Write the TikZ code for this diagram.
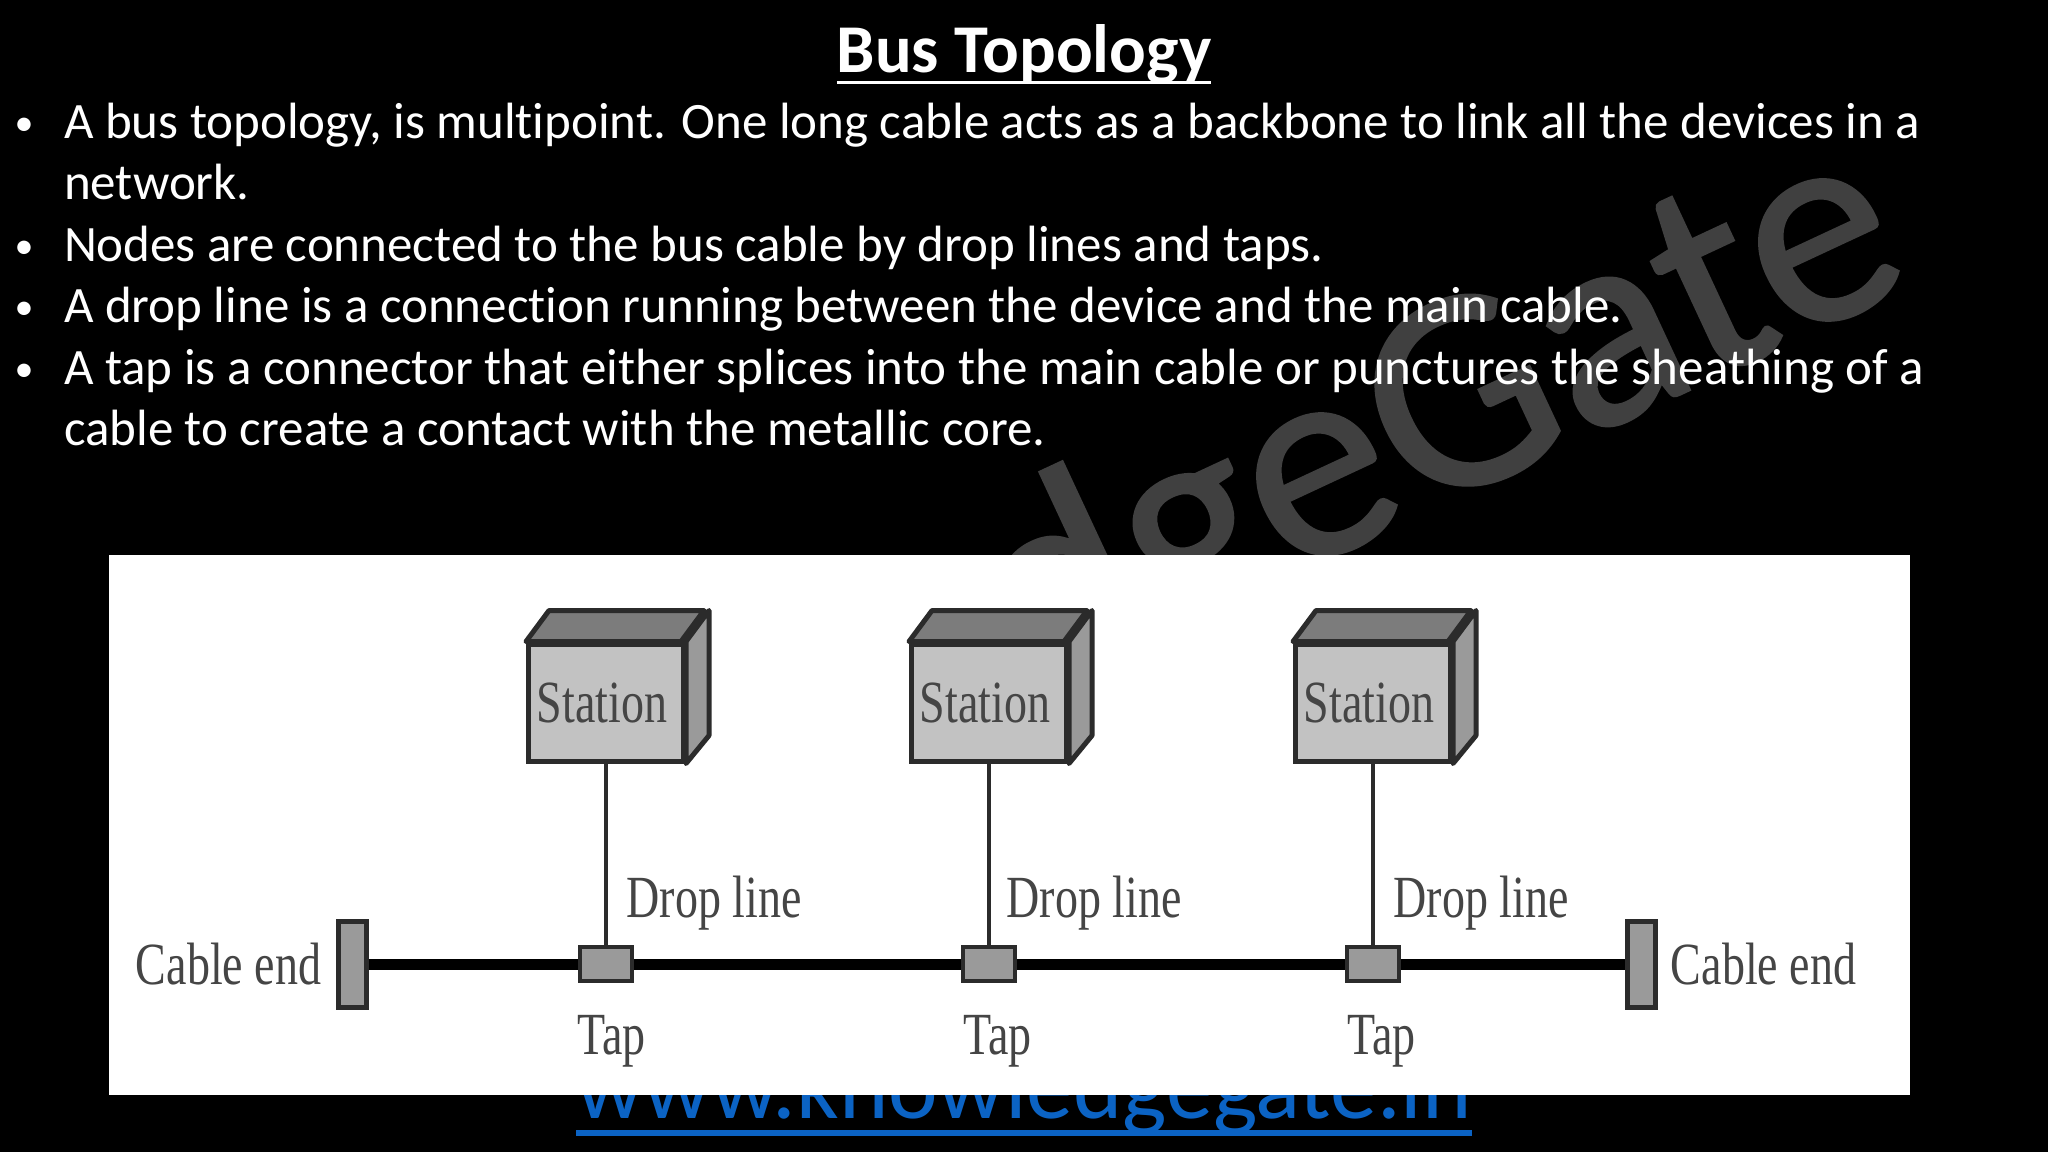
\documentclass[tikz,border=0pt]{standalone}
\usepackage{fontspec}
\setmainfont{Carlito}[Ligatures=NoCommon]
\newfontfamily\timesf{Liberation Serif}
\newfontfamily\wmfont[FakeBold=1]{Carlito}
\definecolor{wmgrey}{HTML}{404040}
\definecolor{urlblue}{HTML}{0B63C4}
\definecolor{frontgrey}{HTML}{C2C2C2}
\definecolor{topgrey}{HTML}{7C7C7C}
\definecolor{sidegrey}{HTML}{9A9A9A}
\definecolor{edgegrey}{HTML}{2B2B2B}
\definecolor{labelgrey}{HTML}{454545}
\newcommand{\figlabel}[1]{\scalebox{1}[1.3]{\timesf\fontsize{23}{23}\selectfont #1}}
\tikzset{
  x=0.5pt,y=-0.5pt,
  bodytext/.style={anchor=base west,inner sep=0pt,outer sep=0pt,text=white,font=\fontsize{25.5}{25.5}\selectfont},
  bulletmark/.style={anchor=base,inner sep=0pt,outer sep=0pt,text=white,font=\fontsize{19}{19}\selectfont},
  stationbox/.style={draw=edgegrey,line width=2.5pt,fill=frontgrey,minimum width=77.5pt,minimum height=58.5pt,inner sep=0pt,text=labelgrey,font=\timesf},
  boxface/.style={draw=edgegrey,line width=2.5pt,line join=round},
  tapbox/.style={draw=edgegrey,line width=2pt,fill=sidegrey,minimum width=26pt,minimum height=17pt,inner sep=0pt},
  endbox/.style={draw=edgegrey,line width=2.5pt,fill=sidegrey,minimum width=14pt,minimum height=43pt,inner sep=0pt},
  figtext/.style={inner sep=0pt,outer sep=0pt,text=labelgrey},
  dropwire/.style={draw=edgegrey,line width=2pt},
  buswire/.style={draw=black,line width=5.5pt},
}
\begin{document}
\begin{tikzpicture}
\useasboundingbox (0,0) rectangle (2048,1152);
\fill[black] (0,0) rectangle (2048,1152);
% watermark
\node[rotate=25,inner sep=0pt,text=wmgrey,font=\fontsize{144}{144}\wmfont] (wm) at (1050,605) {KnowledgeGate};
% url
\node[anchor=base,inner sep=0pt,outer sep=0pt,text=urlblue,font=\fontsize{47}{47}\selectfont] (url) at (1024,1118) {www.knowledgegate.in};
\draw[urlblue,line width=3pt] ([yshift=-7.5pt]url.base west) -- ([yshift=-7.5pt]url.base east);
% title
\node[anchor=base,inner sep=0pt,outer sep=0pt,text=white,font=\fontsize{34.2}{34.2}\selectfont\bfseries] (title) at (1024,72.5) {Bus Topology};
\draw[white,line width=1.6pt] ([yshift=-5pt]title.base west) -- ([yshift=-5pt]title.base east);
% bullets
\node[bulletmark] (b1) at (24,135) {•};
\node[bodytext] (l1) at (64,138) {A bus topology, is multipoint. One long cable acts as a backbone to link all the devices in a};
\node[bodytext] (l2) at (64,199.5) {network.};
\node[bulletmark] (b2) at (24,258) {•};
\node[bodytext] (l3) at (64,261) {Nodes are connected to the bus cable by drop lines and taps.};
\node[bulletmark] (b3) at (24,319) {•};
\node[bodytext] (l4) at (64,322) {A drop line is a connection running between the device and the main cable.};
\node[bulletmark] (b4) at (24,381) {•};
\node[bodytext] (l5) at (64,384) {A tap is a connector that either splices into the main cable or punctures the sheathing of a};
\node[bodytext] (l6) at (64,445) {cable to create a contact with the metallic core.};
% white panel
\fill[white] (109,555) rectangle (1910,1095);
% cable ends
\node[endbox] (endL) at (352,964) {};
\node[endbox] (endR) at (1641,964) {};
\draw[buswire] (endL.east) -- (endR.west);
% stations
\foreach \n/\dx in {1/0,2/383,3/767}{
  \node[stationbox] (s\n) at (606+\dx,702.5) {\hspace*{-4pt}\figlabel{Station}};
  \draw[boxface,fill=topgrey] (s\n.north west) -- ++(23,-31) -- ++(155,0) -- ++(-23,31) -- cycle;
  \draw[boxface,fill=sidegrey] (s\n.north east) -- ++(23,-31) -- ++(0,125) -- (s\n.south east) -- cycle;
  \node[tapbox] (t\n) at (606+\dx,964) {};
  \draw[dropwire] (s\n.south) -- (t\n.north);
}
% labels
\node[figtext] (d1) at (714,903) {\figlabel{Drop line}};
\node[figtext] (d2) at (1094,903) {\figlabel{Drop line}};
\node[figtext] (d3) at (1481,903) {\figlabel{Drop line}};
\node[figtext] (a1) at (611.5,1041) {\figlabel{Tap}};
\node[figtext] (a2) at (997.5,1041) {\figlabel{Tap}};
\node[figtext] (a3) at (1381.5,1041) {\figlabel{Tap}};
\node[figtext] (c1) at (228.5,964) {\figlabel{Cable end}};
\node[figtext] (c2) at (1763.5,964) {\figlabel{Cable end}};
\end{tikzpicture}
\end{document}
